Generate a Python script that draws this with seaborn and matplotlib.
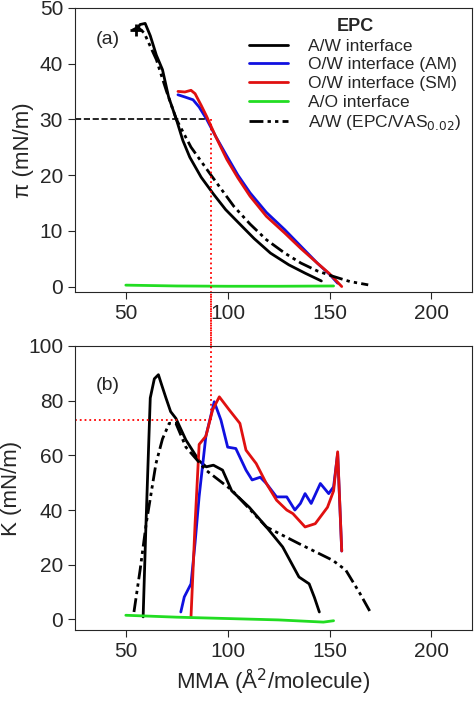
import numpy as np
import pandas as pd
import matplotlib.pyplot as plt
import seaborn as sns
from matplotlib.lines import Line2D

sns.set_style("ticks")
plt.rcParams['font.family'] = ['Liberation Sans', 'DejaVu Sans']

# surface pressure isotherms (MMA, pi)
aw_x = [55, 57, 59.5, 62, 65, 68, 71, 74.8, 78, 81.4, 87, 93, 99, 104.9, 113, 121, 130, 138, 146]
aw_y = [46, 47, 47.2, 45, 41.5, 38.9, 34, 30, 26.2, 23.2, 19.6, 16.6, 13.8, 11.6, 8.6, 6, 3.9, 2.4, 1]
vas_x = [53.3, 56, 59, 65, 70, 74.8, 82, 91, 103, 111, 119, 128, 136, 144, 152, 160, 169]
vas_y = [46, 46.5, 45.5, 40.7, 35, 30, 25, 20.4, 14.4, 11.2, 8.4, 6, 4.2, 2.8, 1.8, 0.9, 0.3]
am_x = [75.6, 79, 83, 86, 89.7, 94, 99.6, 105, 111, 119, 128, 136, 144, 150, 154]
am_y = [34.4, 34, 33.5, 32.2, 30, 27, 23.4, 20, 16.8, 13.3, 10.2, 7.2, 4.2, 2.2, 0.6]
sm_x = [75.6, 79, 82, 84, 87, 89.7, 94, 99.6, 105, 111, 119, 128, 136, 144, 150, 156]
sm_y = [35, 34.9, 35.2, 34.6, 32.5, 30.5, 27, 22.8, 19.5, 16.2, 12.6, 9.6, 6.8, 4.2, 2.3, 0]
ao_x = [50, 75, 100, 125, 152]
ao_y = [0.25, 0.1, 0.05, 0.05, 0.1]

# compression modulus (MMA, K)
kaw_x = [58.5, 59.8, 62, 64, 66, 67.5, 69.7, 72, 74.6, 79.5, 86, 89.5, 93, 97.5, 102, 110.6, 119, 127, 135, 140, 142.6, 145]
kaw_y = [0.9, 32.6, 81, 88, 89.5, 86, 81, 76, 73.5, 65.6, 58, 55.8, 56.4, 54.6, 47, 41, 33.8, 26.5, 15.5, 13, 8, 2.7]
kvas_x = [54, 57, 60, 64.8, 68, 71.3, 74.6, 79.5, 89.3, 102, 119, 135, 151.6, 158, 165, 170]
kvas_y = [2.7, 18, 35, 57, 66, 71.7, 71.7, 63, 54.6, 47.3, 33.8, 27.7, 21.6, 18, 9.4, 2.7]
kam_x = [77, 78.7, 82, 84, 86, 89.3, 93.4, 96.7, 100, 104, 109, 112, 116, 119, 124, 129, 133, 135.7, 138, 141, 145.5, 149.6, 152, 154, 156]
kam_y = [2.7, 8.2, 13, 28, 45, 67, 79.6, 72.9, 63, 62.5, 54.6, 51, 52, 49.7, 44.8, 44.8, 40, 42.4, 46, 42.4, 49.7, 46, 48.5, 60.7, 25]
ksm_x = [82, 84, 86, 89.3, 92.6, 95.9, 100.8, 106, 109, 114, 119, 124, 129, 132, 138, 143, 149, 152, 154, 156]
ksm_y = [0.9, 35, 64, 67, 76.6, 81.4, 76.6, 71.7, 61.9, 57, 49.7, 43.6, 40, 38.7, 33.8, 35, 41, 47, 61.3, 25]
kao_x = [50, 75, 100, 125, 147, 152]
kao_y = [1.5, 0.8, 0.3, -0.2, -1, -0.5]

labels = ['A/W interface', 'O/W interface (AM)', 'O/W interface (SM)', 'A/O interface',
          'A/W (EPC/VAS$_{0.02}$)']
colors = ['black', '#1010e0', '#e01010', '#22dd22', 'black']
dashdot = (5, 1.5, 1.2, 1.5, 1.2, 1.5)

fig = plt.figure(figsize=(4.74, 7.09), dpi=100)
ax1 = fig.add_axes([0.158, 0.588, 0.838, 0.401])
ax2 = fig.add_axes([0.158, 0.111, 0.838, 0.401])


def draw(ax, sets):
    for (x, y), c, lab in zip(sets, colors, labels):
        df = pd.DataFrame({'x': x, 'y': y})
        sns.lineplot(data=df, x='x', y='y', sort=False, color=c, lw=2,
                     ax=ax, legend=False)
        if lab.startswith('A/W ('):
            ax.lines[-1].set_dashes(dashdot)


draw(ax1, [(aw_x, aw_y), (am_x, am_y), (sm_x, sm_y), (ao_x, ao_y), (vas_x, vas_y)])
draw(ax2, [(kaw_x, kaw_y), (kam_x, kam_y), (ksm_x, ksm_y), (kao_x, kao_y), (kvas_x, kvas_y)])

ax1.plot([55], [46], marker='+', ms=9, mew=2, color='black')
ax1.axhline(30, xmax=(89 - 25) / 195, color='black', ls='--', lw=1.2)
ax2.hlines(73, 25, 93, color='red', ls=':', lw=1.3)
# vertical guide crossing both panels
ax1.plot([92, 92], [30, -12], color='red', ls=':', lw=1.3, clip_on=False)
ax2.plot([92, 92], [73, 120], color='red', ls=':', lw=1.3, clip_on=False)

for ax in (ax1, ax2):
    ax.set_xlim(25, 220)
    ax.set_xticks([50, 100, 150, 200])
    ax.tick_params(labelsize=15, length=5, direction='out')
    ax.set_xlabel('')
ax1.set_ylim(-1, 50)
ax1.set_yticks([0, 10, 20, 30, 40, 50])
ax2.set_ylim(-4, 100)
ax2.set_yticks([0, 20, 40, 60, 80, 100])
ax1.set_ylabel('π (mN/m)', fontsize=16)
ax2.set_ylabel('K (mN/m)', fontsize=16)
ax2.set_xlabel('MMA (Å$^2$/molecule)', fontsize=16)
ax1.text(35, 43.5, '(a)', fontsize=14)
ax2.text(35, 84, '(b)', fontsize=14)

handles = [Line2D([], [], color=c, lw=2) for c in colors]
handles[-1].set_dashes(dashdot)
leg = ax1.legend(handles, labels, loc='upper right', frameon=False, fontsize=12.5,
                 title='EPC', handlelength=2.2, labelspacing=0.2,
                 borderaxespad=0.2, handletextpad=1.2)
leg.get_title().set_fontweight('bold')
leg.get_title().set_fontsize(13)

fig.savefig('out.png', dpi=100)
